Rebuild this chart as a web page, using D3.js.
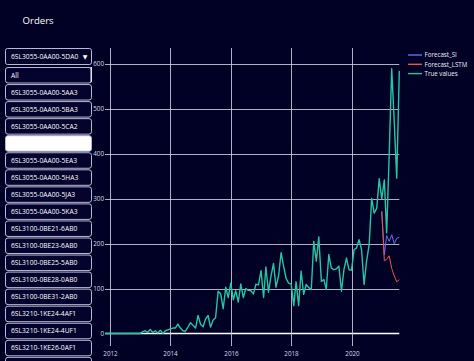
<!DOCTYPE html>
<html>
<head>
<meta charset="utf-8">
<script src="https://cdn.jsdelivr.net/npm/d3@7"></script>
<style>
  html, body { margin: 0; padding: 0; background: #010125; }
  svg { display: block; }
  text { font-family: "Open Sans", "DejaVu Sans", sans-serif; }
</style>
</head>
<body>
<svg id="chart" width="474" height="361"></svg>
<script>
// ---------------- DATA ----------------
const title = "Orders";
const selectedPart = "6SL3055-0AA00-5DA0";
const dropdownOptions = [
  "All",
  "6SL3055-0AA00-5AA3",
  "6SL3055-0AA00-5BA3",
  "6SL3055-0AA00-5CA2",
  "",
  "6SL3055-0AA00-5EA3",
  "6SL3055-0AA00-5HA3",
  "6SL3055-0AA00-5JA3",
  "6SL3055-0AA00-5KA3",
  "6SL3100-0BE21-6AB0",
  "6SL3100-0BE23-6AB0",
  "6SL3100-0BE25-5AB0",
  "6SL3100-0BE28-0AB0",
  "6SL3100-0BE31-2AB0",
  "6SL3210-1KE24-4AF1",
  "6SL3210-1KE24-4UF1",
  "6SL3210-1KE26-0AF1",
  ""
];
const seriesNames = ["Forecast_SI", "Forecast_LSTM", "True values"];
const seriesColors = ["#6a6cf2", "#e8574a", "#25c6a5"];

const trueStart = "2011-11";   // monthly
const trueValues = [
  0, 0, 0, 0, 0, 0, 0, 0, 0, 0, 0, 0, 0, 0, 0,
  4, 6, 2, 9, 2, 6, 1, 7, 0, 6, 8,
  10, 12, 12, 21, 12, 6, 5, 14, 24, 18, 12, 40,
  20, 15, 32, 40, 14, 30, 35, 94, 88, 55, 103, 80,
  112, 75, 95, 70, 110, 80, 100, 96, 95, 88, 110, 108,
  140, 80, 148, 92, 127, 156, 103, 128, 180, 150, 122, 112,
  110, 62, 115, 62, 139, 87, 109, 102, 98, 205, 161, 215,
  116, 120, 98, 176, 146, 142, 144, 150, 94, 142, 168, 142,
  141, 187, 190, 209, 187, 109, 161, 198, 301, 268, 279, 345,
  300, 342, 224, 400, 590, 470, 346, 585
];
const forecastStart = "2021-01";
const forecastSI   = [272, 175, 218, 205, 220, 200, 212, 214];
const forecastLSTM = [272, 162, 165, 173, 145, 128, 115, 120];

const yTicks = [0, 100, 200, 300, 400, 500, 600];
const xTickYears = [2012, 2014, 2016, 2018, 2020];

// ---------------- BUILD ----------------
const parseMonth = d3.timeParse("%Y-%m");
function monthly(start, values) {
  const s = parseMonth(start);
  return values.map((v, i) => ({ date: d3.timeMonth.offset(s, i), value: v }));
}
const trueData = monthly(trueStart, trueValues);
const siData = monthly(forecastStart, forecastSI);
const lstmData = monthly(forecastStart, forecastLSTM);
const allSeries = [siData, lstmData, trueData];

const svg = d3.select("#chart");
const W = 474, H = 361;
const plot = { left: 105, right: 399.3, top: 48, bottom: 346 };

svg.append("rect").attr("width", W).attr("height", H).attr("fill", "#010125");

// title
svg.append("text").attr("x", 22.5).attr("y", 24.3)
  .attr("fill", "#ffffff").attr("font-size", 9.6).text(title);

// scales
const xExtent = d3.extent(trueData.concat(siData, lstmData), d => d.date);
const x = d3.scaleTime().domain(xExtent).range([plot.left, plot.right]);
const y = d3.scaleLinear().domain([-28, 636]).range([plot.bottom, plot.top]);

const gridColor = "#cfcfe0";

// horizontal grid + y labels
const gy = svg.append("g");
yTicks.forEach(t => {
  gy.append("line")
    .attr("x1", plot.left).attr("x2", plot.right)
    .attr("y1", Math.round(y(t)) + 0.5).attr("y2", Math.round(y(t)) + 0.5)
    .attr("stroke", t === 0 ? "#ffffff" : gridColor)
    .attr("stroke-width", t === 0 ? 1.3 : 1)
    .attr("opacity", t === 0 ? 1 : 0.85);
  gy.append("text")
    .attr("x", plot.left - 1).attr("y", y(t) + 2.2)
    .attr("text-anchor", "end")
    .attr("fill", "#d8d8e6").attr("font-size", 6.3)
    .text(t);
});

// vertical grid + x labels
const gx = svg.append("g");
xTickYears.forEach(yr => {
  const xx = Math.round(x(new Date(yr, 0, 1))) + 0.5;
  gx.append("line")
    .attr("x1", xx).attr("x2", xx)
    .attr("y1", plot.top).attr("y2", plot.bottom)
    .attr("stroke", gridColor).attr("stroke-width", 1).attr("opacity", 0.85);
  gx.append("text")
    .attr("x", xx).attr("y", 355.8)
    .attr("text-anchor", "middle")
    .attr("fill", "#d8d8e6").attr("font-size", 6.3)
    .text(yr);
});

// lines
const line = d3.line().x(d => x(d.date)).y(d => y(d.value));
const widths = [1, 1, 1.4];
allSeries.forEach((data, i) => {
  svg.append("path")
    .datum(data)
    .attr("d", line)
    .attr("fill", "none")
    .attr("stroke", seriesColors[i])
    .attr("stroke-width", widths[i])
    .attr("stroke-linejoin", "round");
});

// legend
const lg = svg.append("g");
seriesNames.forEach((name, i) => {
  const ly = 55 + i * 9.3;
  lg.append("line")
    .attr("x1", 408).attr("x2", 422)
    .attr("y1", ly).attr("y2", ly)
    .attr("stroke", seriesColors[i]).attr("stroke-width", 1.4);
  lg.append("text")
    .attr("x", 424.5).attr("y", ly + 2.2)
    .attr("fill", "#eeeeff").attr("font-size", 6.2)
    .text(name);
});

// dropdown
const dd = svg.append("g");
const boxX = 5, boxW = 86;
const boxBorder = "#b9b9d3";
dd.append("rect")
  .attr("x", boxX + 0.5).attr("y", 48.5).attr("width", boxW).attr("height", 16)
  .attr("rx", 2).attr("fill", "#02022b").attr("stroke", boxBorder).attr("stroke-width", 1);
dd.append("text")
  .attr("x", 11).attr("y", 58.8)
  .attr("fill", "#ffffff").attr("font-size", 6.7)
  .text(selectedPart);
dd.append("text")
  .attr("x", 85).attr("y", 58.8)
  .attr("text-anchor", "middle")
  .attr("fill", "#ffffff").attr("font-size", 6)
  .text("▼");

dropdownOptions.forEach((opt, i) => {
  const top = 67 + i * 17.05;
  const isSel = i === 4;
  dd.append("rect")
    .attr("x", boxX + 0.5).attr("y", top + 0.5).attr("width", boxW).attr("height", 15.5)
    .attr("rx", 2.5)
    .attr("fill", isSel ? "#ffffff" : "#03032e")
    .attr("stroke", boxBorder).attr("stroke-width", 1);
  dd.append("text")
    .attr("x", 11).attr("y", top + 10.6)
    .attr("fill", "#ffffff").attr("font-size", 6.7)
    .text(opt);
});
// scrollbar thumb
dd.append("rect").attr("x", 90.5).attr("y", 67).attr("width", 1.5).attr("height", 15)
  .attr("fill", "#e6e6f2");
</script>
</body>
</html>
